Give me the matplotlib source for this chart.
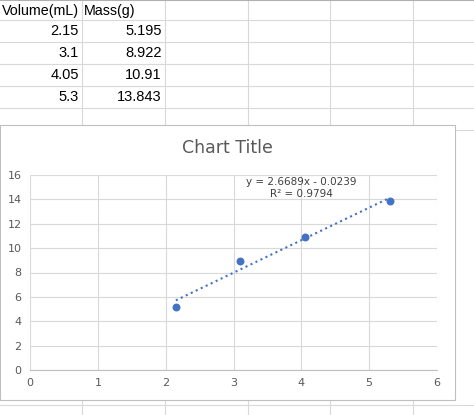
import matplotlib.pyplot as plt
import numpy as np

volume = [2.15, 3.1, 4.05, 5.3]
mass = [5.195, 8.922, 10.91, 13.843]
vol_labels = ["2.15", "3.1", "4.05", "5.3"]
mass_labels = ["5.195", "8.922", "10.91", "13.843"]
slope, intercept = 2.6689, -0.0239
r2 = 0.9794

W, H = 474, 415
fig = plt.figure(figsize=(W / 100, H / 100), dpi=100)

# spreadsheet background, pixel coordinates
bg = fig.add_axes([0, 0, 1, 1])
bg.set_xlim(0, W)
bg.set_ylim(H, 0)
bg.axis('off')
col_x = [82, 165, 248, 330, 413]
row_y = [20, 42, 64, 86, 108, 130, 405]
for cx in col_x:
    bg.plot([cx, cx], [0, H], color='#d9d9d9', lw=0.8)
for ry in row_y:
    bg.plot([0, W], [ry, ry], color='#d9d9d9', lw=0.8)
bg.plot([0, W], [0.5, 0.5], color='#b0b0b0', lw=1.5)

bg.text(2, 11, "Volume(mL)", fontsize=10.3, va='center', family='Liberation Sans')
bg.text(84, 11, "Mass(g)", fontsize=10.3, va='center', family='Liberation Sans')
for i in range(len(volume)):
    y = 31 + 22 * i
    bg.text(79, y, vol_labels[i], fontsize=10.5, va='center', ha='right', family='Liberation Sans')
    bg.text(162, y, mass_labels[i], fontsize=10.5, va='center', ha='right', family='Liberation Sans')

# chart box
bg.add_patch(plt.Rectangle((0, 125), 455, 275, facecolor='white', edgecolor='#bfbfbf', lw=0.8, zorder=3))
bg.text(227, 148, "Chart Title", fontsize=12.5, color='#595959', ha='center', va='center', zorder=4)

ax = fig.add_axes([30 / W, 1 - 370 / H, 407 / W, 195 / H], zorder=5)
ax.set_facecolor('none')
ax.set_xlim(0, 6)
ax.set_ylim(0, 16)
ax.set_xticks(range(7))
ax.set_yticks(range(0, 17, 2))
ax.grid(axis='both', color='#d9d9d9', lw=0.8)
for s in ['top', 'right', 'left']:
    ax.spines[s].set_visible(False)
ax.spines['bottom'].set_color('#bfbfbf')
ax.tick_params(length=0, labelsize=8, colors='#595959', pad=6)
ax.scatter(volume, mass, color='#4472c4', s=22, zorder=3)
xs = np.array([volume[0], volume[-1]])
ax.plot(xs, slope * xs + intercept, color='#4472c4', ls=':', lw=1.5)
ax.text(4.0, 15.2, f"y = {slope}x - {abs(intercept)}", fontsize=7.5, color='#404040', ha='center')
ax.text(4.0, 14.2, f"R² = {r2}", fontsize=7.5, color='#404040', ha='center')

fig.savefig('out.png', dpi=100)
